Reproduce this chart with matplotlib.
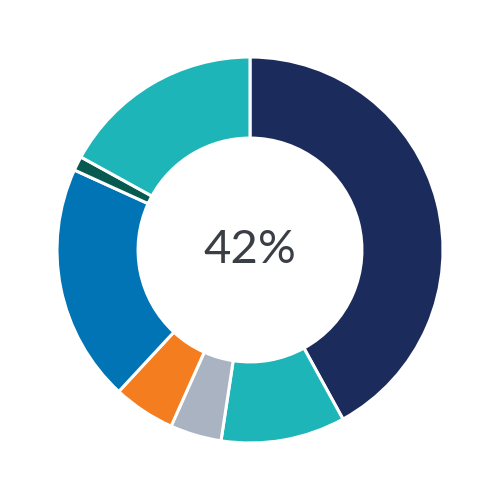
import matplotlib.pyplot as plt

# shares clockwise from 12 o'clock
shares = [42.0, 10.4, 4.3, 5.2, 19.9, 1.2, 17.0]
colors = ["#1b2b5b", "#1db5b8", "#a9b3c1", "#f47d20", "#0074b4", "#075a50", "#1db5b8"]
center_label = "42%"

fig = plt.figure(figsize=(5, 5), dpi=100)
ax = fig.add_axes([0, 0, 1, 1])
ax.pie(shares, colors=colors, startangle=90, counterclock=False, radius=1.0,
       wedgeprops=dict(width=0.42, edgecolor="white", linewidth=2.2))
ax.text(0, 0, center_label, ha="center", va="center", fontsize=34,
        color="#3a3f45", family="Lato")
lim = 250 / 193
ax.set_xlim(-lim, lim)
ax.set_ylim(-lim, lim)
ax.set_aspect("equal")
ax.axis("off")
fig.savefig("out.png", dpi=100, facecolor="white")
